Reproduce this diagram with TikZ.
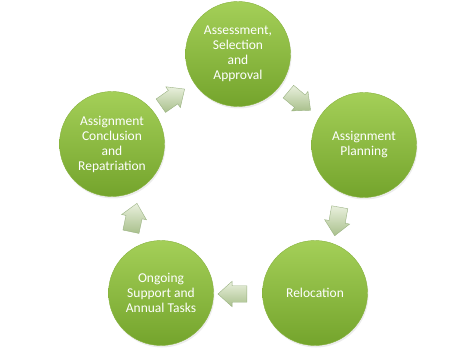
\documentclass[tikz,border=0pt]{standalone}
\usepackage{fontspec}
\setmainfont{Carlito}
\usepackage{tikz}
\usetikzlibrary{shapes.arrows,shadows}

\definecolor{stagetop}{HTML}{A4CF58}
\definecolor{stagebottom}{HTML}{74A42C}
\definecolor{stagerim}{HTML}{86B23C}
\definecolor{arrowlight}{HTML}{E9F0DD}
\definecolor{arrowdark}{HTML}{A9C08C}
\definecolor{arrowrim}{HTML}{9AB282}

\tikzset{
  stage/.style={circle, minimum size=105pt, inner sep=0pt, draw=stagerim, thin,
    top color=stagetop, bottom color=stagebottom, text=white, align=center,
    font=\fontsize{13.5pt}{15pt}\selectfont,
    drop shadow={opacity=0.15, shadow xshift=1pt, shadow yshift=-2pt}},
  cycle arrow/.style={single arrow, minimum height=29pt, inner xsep=0pt, inner ysep=8pt,
    single arrow head extend=4.5pt, single arrow tip angle=84, draw=arrowrim, thin,
    top color=arrowlight, bottom color=arrowdark}
}

\begin{document}
\begin{tikzpicture}[x=1pt, y=1pt]
        % Fix the page size
        \useasboundingbox (0, 0) rectangle (474, 351);

        % Draw the five stages
        \node[stage] (assessment) at (238, 297) {Assessment,\\Selection\\and\\Approval};
        \node[stage] (planning) at (364, 206) {Assignment\\Planning};
        \node[stage] (relocation) at (315, 58) {Relocation};
        \node[stage] (ongoing) at (161, 58) {Ongoing\\Support and\\Annual Tasks};
        \node[stage] (conclusion) at (112, 207) {Assignment\\Conclusion\\and\\Repatriation};

        % Draw the block arrows between the stages
        \node[cycle arrow, rotate=-40] (arr_assess_plan) at (296, 253) {};
        \node[cycle arrow, rotate=-100] (arr_plan_reloc) at (338, 134) {};
        \node[cycle arrow, rotate=180] (arr_reloc_ongoing) at (237, 57) {};
        \node[cycle arrow, rotate=78] (arr_ongoing_concl) at (133, 129) {};
        \node[cycle arrow, rotate=35] (arr_concl_assess) at (169, 251) {};
      \end{tikzpicture}
\end{document}
